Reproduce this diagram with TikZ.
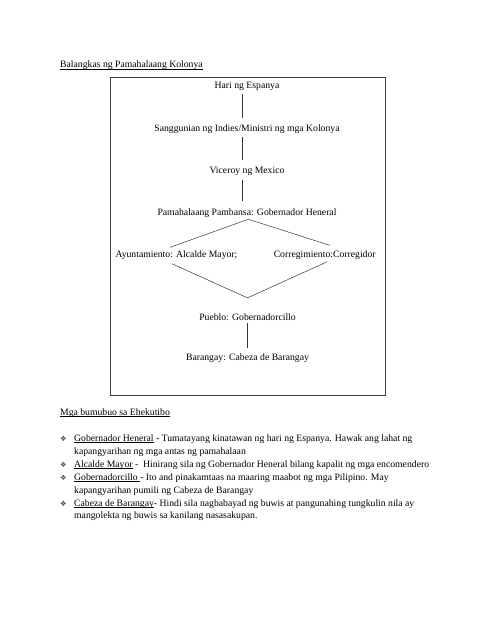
\documentclass[tikz,border=0pt]{standalone}
\usepackage{fontspec}
\setmainfont{Liberation Serif}
\newfontfamily\symfont{DejaVu Sans}
\usetikzlibrary{calc}
\newcommand\myul[1]{\setbox0\hbox{#1}\rlap{\rule[-1.8pt]{\wd0}{0.55pt}}\box0\relax}
\begin{document}
\begin{tikzpicture}[x=1.2364pt,y=-1.2364pt,
  lbl/.style={inner sep=0pt, text height=8pt, text depth=2.6pt, anchor=base, font=\fontsize{12}{14}\selectfont},
  txt/.style={inner sep=0pt, anchor=base west, font=\fontsize{12}{14}\selectfont},
  bul/.style={inner sep=0pt, anchor=base, font=\symfont\fontsize{9}{9}\selectfont, text=black!70},
  conn/.style={draw=black!80, line width=0.6pt},
  frame/.style={draw=black!75, line width=0.7pt}]
\useasboundingbox (0,0) rectangle (495,640);
\fill[white] (0,0) rectangle (495,640);
% title
\node[txt] (title) at (60,68) {\myul{Balangkas ng Pamahalaang Kolonya}};
% frame
\draw[frame] (110,77) rectangle (385,395);
% hierarchy
\node[lbl] (hari) at (247,89) {Hari ng Espanya};
\node[lbl] (sang) at (247,131.5) {Sanggunian ng Indies/Ministri ng mga Kolonya};
\node[lbl] (vice) at (247,173.5) {Viceroy ng Mexico};
\node[lbl] (pam) at (247,215) {Pamahalaang Pambansa: Gobernador Heneral};
\node[lbl] (ayu) at (176.5,257) {Ayuntamiento: Alcalde Mayor;};
\node[lbl] (cor) at (324.7,257) {Corregimiento:Corregidor};
\node[lbl] (pue) at (247.5,320) {Pueblo: Gobernadorcillo};
\node[lbl] (bar) at (247.5,360.5) {Barangay: Cabeza de Barangay};
% vertical connectors
\draw[conn] ([xshift=-5*1.2364pt,yshift=-3*1.2364pt]hari.south) -- ([xshift=-5*1.2364pt,yshift=7*1.2364pt]sang.north);
\draw[conn] ([xshift=-5*1.2364pt,yshift=-3*1.2364pt]sang.south) -- ([xshift=-5*1.2364pt,yshift=7*1.2364pt]vice.north);
\draw[conn] ([xshift=-5*1.2364pt,yshift=-4*1.2364pt]vice.south) -- ([xshift=-5*1.2364pt,yshift=7.5*1.2364pt]pam.north);
\draw[conn] ([yshift=-1*1.2364pt]pue.south) -- ([yshift=6*1.2364pt]bar.north);
% diamond
\coordinate (topapex) at ($(pam.south)+(1.3,2)$);
\coordinate (botapex) at ($(pue.north)+(0,-15.5)$);
\draw[conn] ($(ayu.north)+(-6.5,-3)$) -- (topapex) -- ($(cor.north)+(5.3,-5)$);
\draw[conn] ($(ayu.south)+(-4.5,4.5)$) -- (botapex) -- ($(cor.south)+(2.5,2.5)$);
% list
\node[txt] (mga) at (60,415) {\myul{Mga bumubuo sa Ehekutibo}};
\node[bul] (b1) at (63.5,441) {❖};
\node[txt] (l1) at (74,441) {\myul{Gobernador Heneral} - Tumatayang kinatawan ng hari ng Espanya. Hawak ang lahat ng};
\node[txt] (l1b) at (74,454) {kapangyarihan ng mga antas ng pamahalaan};
\node[bul] (b2) at (63.5,467) {❖};
\node[txt] (l2) at (74,467) {\myul{Alcalde Mayor} -\ \ Hinirang sila ng Gobernador Heneral bilang kapalit ng mga encomendero};
\node[bul] (b3) at (63.5,480) {❖};
\node[txt] (l3) at (74,480) {\myul{Gobernadorcillo }- Ito and pinakamtaas na maaring maabot ng mga Pilipino. May};
\node[txt] (l3b) at (74,493) {kapangyarihan pumili ng Cabeza de Barangay};
\node[bul] (b4) at (63.5,506) {❖};
\node[txt] (l4) at (74,506) {\myul{Cabeza de Barangay}- Hindi sila nagbabayad ng buwis at pangunahing tungkulin nila ay};
\node[txt] (l4b) at (74,518) {mangolekta ng buwis sa kanilang nasasakupan.};
\end{tikzpicture}
\end{document}
